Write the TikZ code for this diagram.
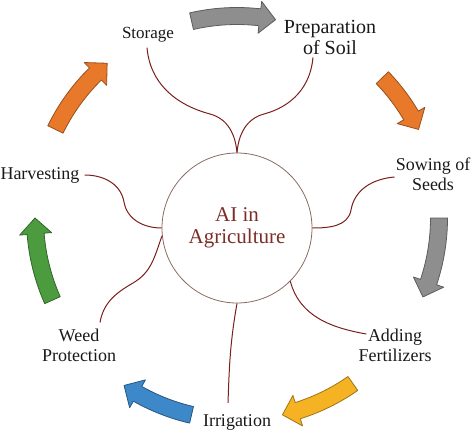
\documentclass[tikz,border=0pt]{standalone}
\usepackage{fontspec}
\setmainfont{Liberation Serif}

\definecolor{branchred}{HTML}{7B1F1C}
\definecolor{ringgray}{HTML}{8A6A62}
\definecolor{aitext}{HTML}{7A2E26}
\definecolor{arrgray}{HTML}{8E8E8E}
\definecolor{arrorange}{HTML}{E8792B}
\definecolor{arryellow}{HTML}{F5B324}
\definecolor{arrblue}{HTML}{3C88C9}
\definecolor{arrgreen}{HTML}{4C9B3F}

% 弯曲的粗箭头: 起始角度, 终止角度, 颜色
\newcommand{\cyclearrow}[3]{%
  \filldraw[cycarrow, fill=#3, draw=#3!65!black]
    (#1:210.5) arc[start angle=#1, end angle={#2+4.5}, radius=210.5]
    -- ({#2+4.5}:218) -- (#2:202) -- ({#2+4.5}:186)
    -- ({#2+4.5}:193.5) arc[start angle={#2+4.5}, end angle=#1, radius=193.5] -- cycle;}

\begin{document}
\begin{tikzpicture}[
        x=1pt, y=1pt, % 以像素为单位
        stage/.style={
            align=center, % 多行居中
            inner sep=1pt, % 内边距
            text=black!90,
            font=\fontsize{18}{20}\selectfont % 字体大小
        },
        hub/.style={
            circle, % 圆形节点
            draw=ringgray, % 边框颜色
            line width=0.8pt,
            minimum size=150pt, % 圆的大小
            inner sep=0,
            align=center,
            text=aitext,
            font=\fontsize{21}{22}\selectfont
        },
        branch/.style={draw=branchred, line width=1pt}, % 连线样式
        cycarrow/.style={line width=0.8pt, line join=round} % 箭头样式
    ]
    \useasboundingbox (0,0) rectangle (474,432);

    % 中心圆
    \node[hub] (ai) at (237,204) {AI in\\Agriculture};

    % 各个阶段
    \node[stage, font=\fontsize{17}{19}\selectfont] (stor) at (148,397) {Storage};
    \node[stage, font=\fontsize{20}{21}\selectfont] (prep) at (330,395) {Preparation\\of Soil};
    \node[stage] (sow) at (433,258) {Sowing of\\Seeds};
    \node[stage] (fert) at (395,87) {Adding\\Fertilizers};
    \node[stage] (irri) at (237,10) {Irrigation};
    \node[stage] (weed) at (79,87) {Weed\\Protection};
    \node[stage] (harv) at (40,257) {Harvesting};

    % 连线
    \draw[branch] ([xshift=-1pt,yshift=-4pt]stor.south) to[out=-85,in=165] (210,318) to[out=-15,in=95] (ai.90);
    \draw[branch] ([xshift=-17pt,yshift=-2pt]prep.south) to[out=-95,in=15] (264,318) to[out=-165,in=85] (ai.90);
    \draw[branch] ([yshift=-3pt]sow.west) to[out=185,in=80] (351,222) to[out=-100,in=0] (ai.0);
    \draw[branch] ([xshift=9pt,yshift=11pt]fert.west) to[out=170,in=-75] (ai.-45);
    \draw[branch] ([xshift=-9pt,yshift=10pt]irri.north) to[out=88,in=-100] (ai.-90);
    \draw[branch] ([xshift=21pt,yshift=5pt]weed.north) to[out=80,in=-150] (133,149) to[out=30,in=-110] (ai.186);
    \draw[branch] ([xshift=4pt]harv.east) to[out=0,in=100] (124,230) to[out=-80,in=180] (ai.180);

    % 外圈箭头
    \begin{scope}[shift={(237,214)}]
        \cyclearrow{103}{79}{arrgray}
        \cyclearrow{44}{26}{arrorange}
        \cyclearrow{0}{-23}{arrgray}
        \cyclearrow{-55}{-77}{arryellow}
        \cyclearrow{-103}{-124}{arrblue}
        \cyclearrow{-156}{-180}{arrgreen}
        \cyclearrow{154}{130}{arrorange}
    \end{scope}
\end{tikzpicture}
\end{document}
